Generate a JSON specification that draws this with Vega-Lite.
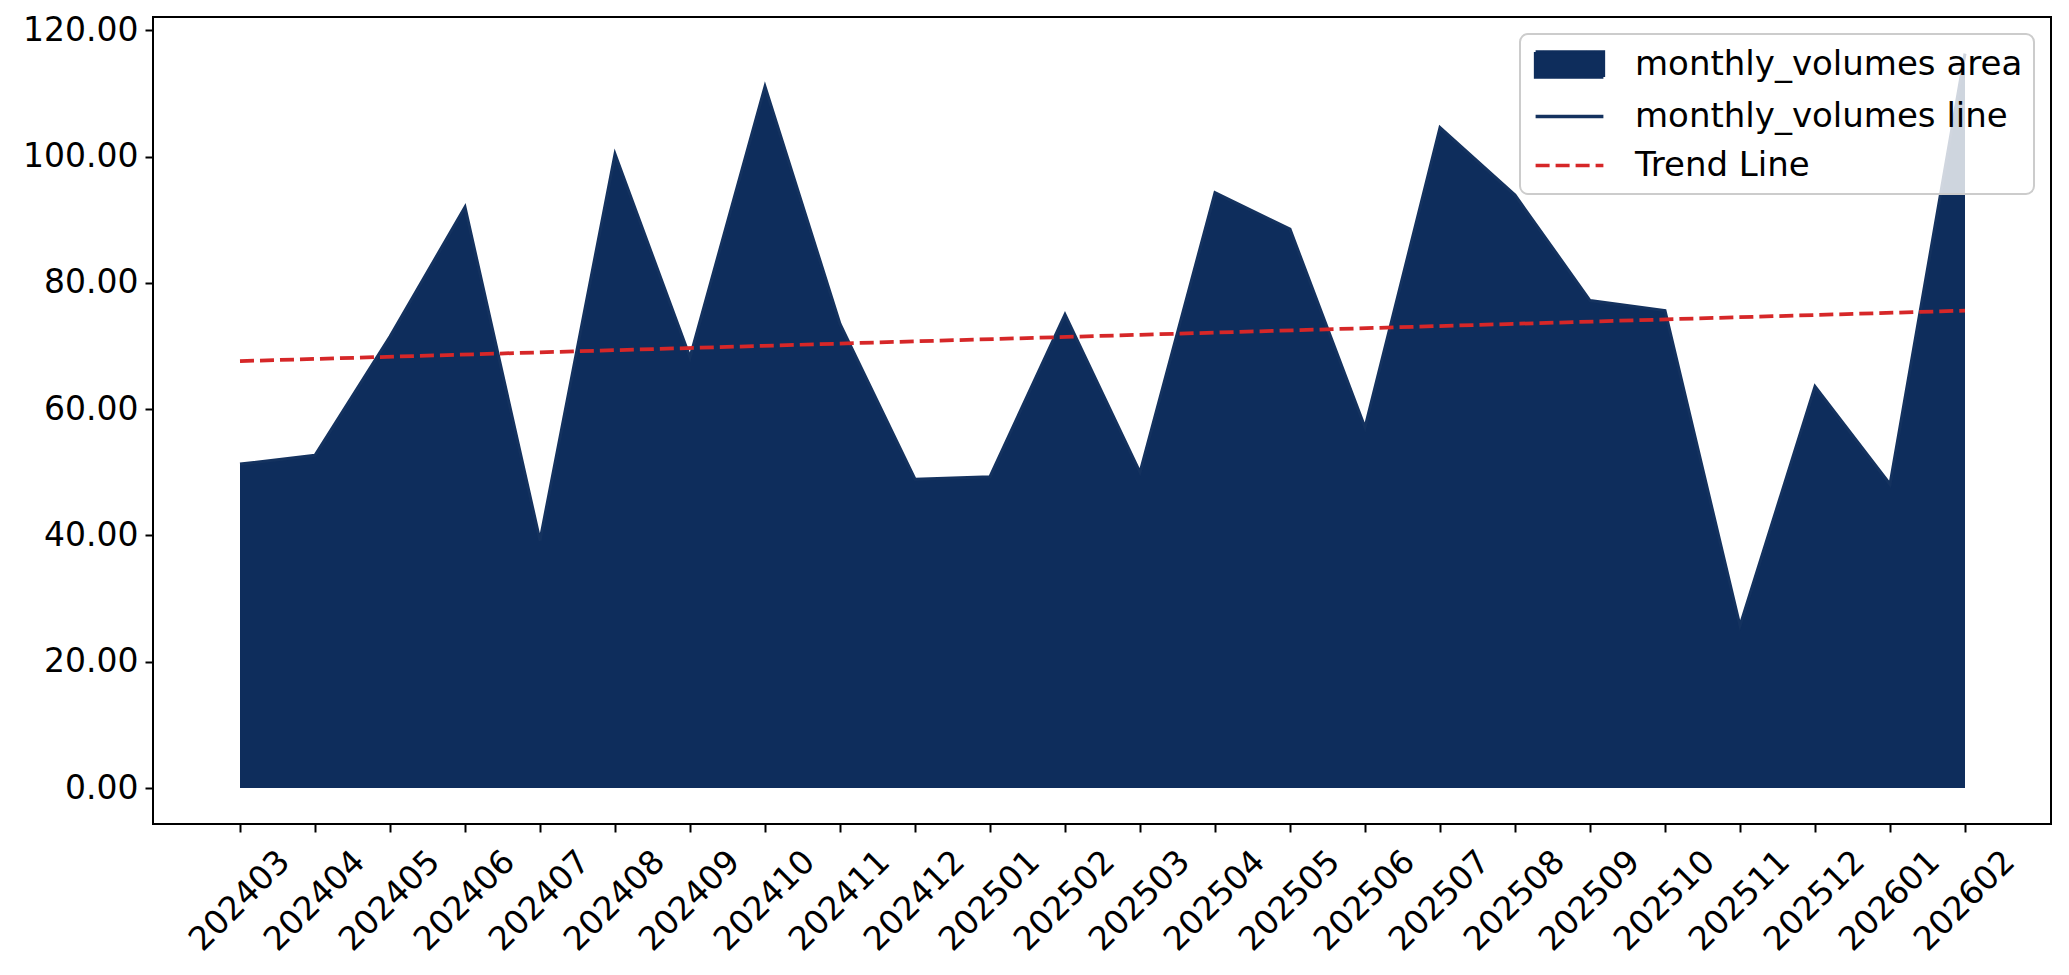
{
  "$schema": "https://vega.github.io/schema/vega-lite/v6.json",
  "width": 1898,
  "height": 807,
  "autosize": "none",
  "padding": {"left": 153, "top": 17, "right": 18, "bottom": 151},
  "background": "white",
  "config": {
    "view": {"stroke": "black", "strokeWidth": 2},
    "font": "DejaVu Sans",
    "axis": {
      "labelFont": "DejaVu Sans",
      "labelFontSize": 33,
      "labelColor": "black",
      "tickColor": "black",
      "tickWidth": 2,
      "tickSize": 8,
      "domain": false,
      "grid": false,
      "title": null
    }
  },
  "datasets": {
    "volumes": [
      {"month": "202403", "value": 51.3},
      {"month": "202404", "value": 52.7},
      {"month": "202405", "value": 71.5},
      {"month": "202406", "value": 92.0},
      {"month": "202407", "value": 39.2},
      {"month": "202408", "value": 100.4},
      {"month": "202409", "value": 68.2},
      {"month": "202410", "value": 111.1},
      {"month": "202411", "value": 73.5},
      {"month": "202412", "value": 48.9},
      {"month": "202501", "value": 49.3},
      {"month": "202502", "value": 75.0},
      {"month": "202503", "value": 50.0},
      {"month": "202504", "value": 94.3},
      {"month": "202505", "value": 88.5},
      {"month": "202506", "value": 57.1},
      {"month": "202507", "value": 104.6},
      {"month": "202508", "value": 93.9},
      {"month": "202509", "value": 77.2},
      {"month": "202510", "value": 75.6},
      {"month": "202511", "value": 25.7},
      {"month": "202512", "value": 63.6},
      {"month": "202601", "value": 48.1},
      {"month": "202602", "value": 116.3}
    ],
    "trend": [
      {"month": "202403", "trend": 67.6},
      {"month": "202602", "trend": 75.6}
    ]
  },
  "encoding": {
    "x": {
      "field": "month",
      "type": "ordinal",
      "scale": {
        "type": "point",
        "padding": 0,
        "range": [87, 1812],
        "domain": ["202403","202404","202405","202406","202407","202408","202409","202410","202411","202412","202501","202502","202503","202504","202505","202506","202507","202508","202509","202510","202511","202512","202601","202602"]
      },
      "axis": {
        "labelAngle": -45,
        "labelAlign": "right",
        "labelBaseline": "middle",
        "labelOffset": 44,
        "labelPadding": 24
      }
    }
  },
  "layer": [
    {
      "data": {"name": "volumes"},
      "mark": {"type": "area", "opacity": 1},
      "encoding": {
        "y": {
          "field": "value",
          "type": "quantitative",
          "scale": {"domain": [-5.7, 122.1], "nice": false, "zero": false},
          "axis": {"values": [0, 20, 40, 60, 80, 100, 120], "format": ".2f", "labelPadding": 7}
        },
        "y2": {"datum": 0},
        "color": {
          "datum": "monthly_volumes area",
          "scale": {
            "domain": ["monthly_volumes area", "monthly_volumes line", "Trend Line"],
            "range": ["#0e2d5c", "#14325f", "#d62728"]
          },
          "legend": {
            "title": null,
            "orient": "top-right",
            "offset": 17,
            "symbolSize": 1260,
            "symbolOffset": 19,
            "symbolStrokeWidth": 3.5,
            "labelFont": "DejaVu Sans",
            "labelFontSize": 34,
            "labelColor": "black",
            "labelLimit": 1000,
            "padding": 11,
            "rowPadding": 12,
            "labelOffset": 46,
            "fillColor": "rgba(255,255,255,0.8)",
            "strokeColor": "#cccccc",
            "cornerRadius": 8,
            "symbolOpacity": 1,
            "encode": {
              "legend": {"update": {"strokeWidth": {"value": 2}}},
              "symbols": {
                "update": {
                  "shape": {"signal": "datum.value === 'monthly_volumes area' ? 'M-1.91,-0.71L1.91,-0.71L1.91,0.71L-1.91,0.71Z' : 'M-1.91,0L1.91,0'"},
                  "fill": {"signal": "datum.value === 'monthly_volumes area' ? '#0e2d5c' : 'transparent'"},
                  "stroke": {"signal": "datum.value === 'monthly_volumes area' ? 'transparent' : (datum.value === 'Trend Line' ? '#d62728' : '#14325f')"},
                  "strokeDash": {"signal": "datum.value === 'Trend Line' ? [14, 6] : [1, 0]"},
                  "strokeWidth": {"value": 3.5},
                  "opacity": {"value": 1}
                }
              }
            }
          }
        }
      }
    },
    {
      "data": {"name": "volumes"},
      "mark": {"type": "line", "strokeWidth": 3},
      "encoding": {
        "y": {"field": "value", "type": "quantitative"},
        "color": {"datum": "monthly_volumes line"}
      }
    },
    {
      "data": {"name": "trend"},
      "mark": {"type": "line", "strokeWidth": 3.75, "strokeDash": [14, 6]},
      "encoding": {
        "y": {"field": "trend", "type": "quantitative"},
        "color": {"datum": "Trend Line"}
      }
    }
  ]
}
